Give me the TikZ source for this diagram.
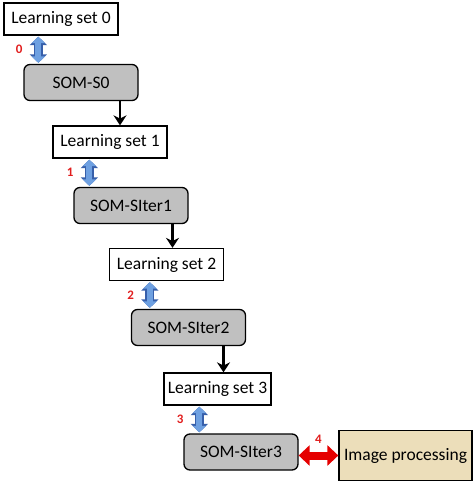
\documentclass[tikz,border=0pt]{standalone}
\usepackage{fontspec}
\setmainfont{Carlito}
\usetikzlibrary{arrows.meta}

\definecolor{somgray}{RGB}{192,192,192}
\definecolor{linkblue}{RGB}{110,160,225}
\definecolor{linkedge}{RGB}{55,95,170}
\definecolor{parchment}{RGB}{236,222,186}
\definecolor{steplabel}{RGB}{225,30,30}

\begin{document}
\begin{tikzpicture}[
    x=1pt, y=-1pt,
    font=\fontsize{17.5}{20}\selectfont,
    learnset/.style={rectangle,draw,line width=1.3pt,fill=white,minimum width=114pt,minimum height=32pt,inner sep=0pt},
    somnet/.style={rectangle,draw,line width=1.3pt,rounded corners=6pt,fill=somgray,minimum width=114pt,minimum height=36pt,inner sep=0pt},
    flow/.style={line width=2.8pt,-{Stealth[length=10pt,width=13pt]}},
    link/.style={preaction={draw=linkedge,line width=9pt,{Triangle[length=8.5pt,width=17pt]}-{Triangle[length=8.5pt,width=17pt]}},
        line width=6pt,draw=linkblue,{Triangle[length=6.5pt,width=13pt]}-{Triangle[length=6.5pt,width=13pt]},shorten <=1pt,shorten >=1pt},
    output/.style={line width=8pt,draw=red!90!black,{Triangle[length=11pt,width=20pt]}-{Triangle[length=11pt,width=20pt]}},
    stepnum/.style={text=steplabel,font=\fontsize{13}{14}\selectfont\bfseries,inner sep=0pt}
]
\useasboundingbox (0,0) rectangle (474,486);

% Learning sets
\node[learnset] (ls0) at (61,19) {Learning set 0};
\node[learnset] (ls1) at (110,142) {Learning set 1};
\node[learnset] (ls2) at (166.5,264.5) {Learning set 2};
\node[learnset,minimum width=107pt] (ls3) at (217.5,389) {Learning set 3};

% SOM maps
\node[somnet] (som0) at (81,82.5) {SOM-S0};
\node[somnet] (som1) at (131,205.5) {SOM-SIter1};
\node[somnet] (som2) at (188.5,327.5) {SOM-SIter2};
\node[somnet] (som3) at (241,452) {SOM-SIter3};

% Output
\node[rectangle,draw,line width=1.3pt,fill=parchment,minimum width=133pt,minimum height=50pt,inner sep=0pt] (img) at (405.5,455.5) {Image processing};

% Training links
\draw[link] ([xshift=15pt]som0.north west |- ls0.south) -- node[stepnum,left=13pt] {0} ([xshift=15pt]som0.north west);
\draw[link] ([xshift=16pt]som1.north west |- ls1.south) -- node[stepnum,left=13pt] {1} ([xshift=16pt]som1.north west);
\draw[link] ([xshift=19pt]som2.north west |- ls2.south) -- node[stepnum,left=13pt] {2} ([xshift=19pt]som2.north west);
\draw[link] ([xshift=16pt]som3.north west |- ls3.south) -- node[stepnum,left=13pt] {3} ([xshift=16pt]som3.north west);

% Next learning set
\draw[flow] ([xshift=10pt]ls1.north |- som0.south) -- ([xshift=10pt]ls1.north);
\draw[flow] ([xshift=6pt]ls2.north |- som1.south) -- ([xshift=6pt]ls2.north);
\draw[flow] ([xshift=6pt]ls3.north |- som2.south) -- ([xshift=6pt]ls3.north);

% Final step
\draw[output] (som3.east |- img.west) -- node[stepnum,above=8pt] {4} (img.west);

\end{tikzpicture}
\end{document}
